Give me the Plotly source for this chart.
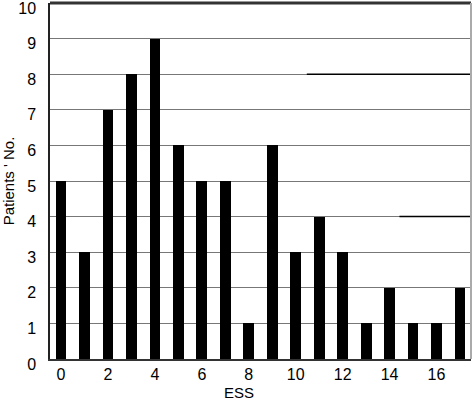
import plotly.graph_objects as go

# ESS score vs number of patients
ess = list(range(18))
patients = [5, 3, 7, 8, 9, 6, 5, 5, 1, 6, 3, 4, 3, 1, 2, 1, 1, 2]
x_ticks = [0, 2, 4, 6, 8, 10, 12, 14, 16]
y_ticks = list(range(11))

fig = go.Figure()

fig.add_trace(go.Bar(
    x=ess,
    y=patients,
    width=0.46,
    marker=dict(color='black', line=dict(width=0)),
    showlegend=False
))

# darker stretches of two gridlines seen in the original scan
fig.add_shape(type='line', xref='paper', yref='y', x0=0.61, x1=1, y0=8, y1=8,
              line=dict(color='black', width=1.5))
fig.add_shape(type='line', xref='paper', yref='y', x0=0.83, x1=1, y0=4, y1=4,
              line=dict(color='black', width=1.5))
# frame: heavy top, light right
fig.add_shape(type='line', xref='paper', yref='paper', x0=0, x1=1, y0=1, y1=1,
              line=dict(color='#333', width=3))
fig.add_shape(type='line', xref='paper', yref='paper', x0=1, x1=1, y0=0, y1=1,
              line=dict(color='#aaa', width=2))

# x axis title as an annotation (automargin is off, so standoff is ignored)
fig.add_annotation(text='ESS', xref='paper', yref='paper', x=0.45, y=0,
                   yanchor='top', yshift=-23, showarrow=False,
                   font=dict(size=15))

fig.update_layout(
    width=474, height=402,
    margin=dict(l=50, r=3, t=3, b=43),
    plot_bgcolor='white',
    paper_bgcolor='white',
    font=dict(family='Liberation Sans, Arial, sans-serif', size=16, color='black'),
    bargap=0
)

fig.update_xaxes(
    range=[-0.47, 17.47],
    tickvals=x_ticks,
    automargin=False,
    showgrid=False,
    showline=True, linecolor='#333', linewidth=1.5,
    ticks='', ticklen=0,
    ticklabelstandoff=0,
    zeroline=False
)
fig.update_yaxes(
    range=[0, 10],
    tickvals=y_ticks,
    automargin=False,
    showgrid=True, gridcolor='#777', gridwidth=1,
    showline=True, linecolor='#222', linewidth=1.5,
    ticks='', ticklen=0,
    ticklabelshift=5,
    ticklabelstandoff=9,
    ticklabeloverflow='allow',
    title=dict(text="Patients ' No.", font=dict(size=15), standoff=4),
    zeroline=False
)

# page body has a default 8px margin; drop it so the figure fills the window
fig.write_html("out.html", config={'displayModeBar': False},
               post_script="document.body.style.margin='0';")
